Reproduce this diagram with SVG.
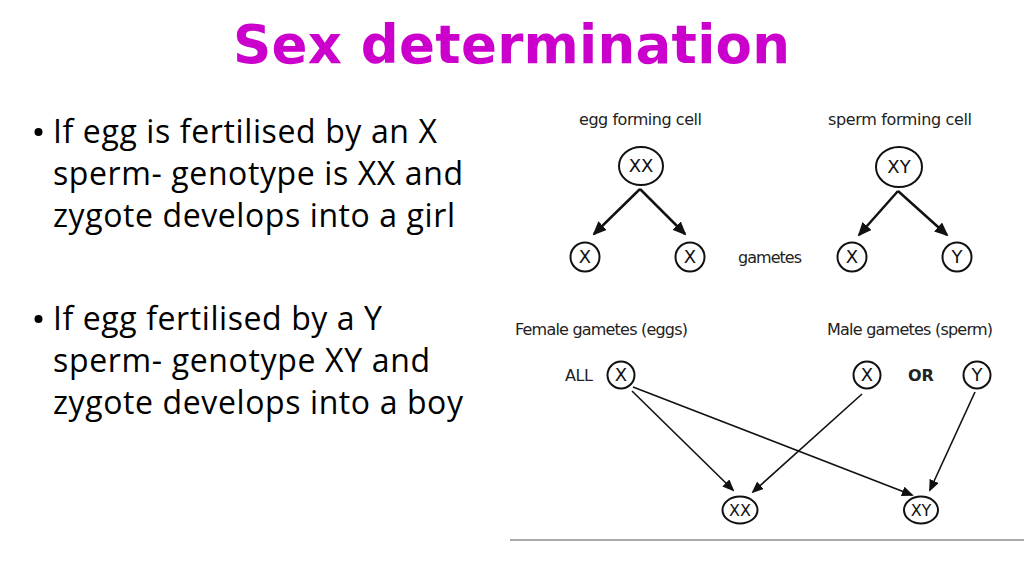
<svg xmlns="http://www.w3.org/2000/svg" width="1024" height="576" viewBox="0 0 1024 576">
<defs>
<style>
.title{font-family:"DejaVu Sans",sans-serif;font-weight:bold;font-size:53px;fill:#CC00CC}
.bul{font-family:"Open Sans","Liberation Sans",sans-serif;font-size:32px;fill:#000}
.lbl{font-family:"DejaVu Sans",sans-serif;font-size:16px;fill:#222}
.sym{font-family:"DejaVu Sans",sans-serif;font-size:18px;fill:#111;text-anchor:middle}
.node{fill:#fff;stroke:#111;stroke-width:2}
.big{stroke:#111;stroke-width:2.5;fill:none;marker-end:url(#ah1)}
.thin{stroke:#111;stroke-width:1.6;fill:none;marker-end:url(#ah2)}
</style>
<marker id="ah1" markerUnits="userSpaceOnUse" markerWidth="14" markerHeight="12" refX="12" refY="6" orient="auto">
<path d="M0,0 L14,6 L0,12 z" fill="#111"/>
</marker>
<marker id="ah2" markerUnits="userSpaceOnUse" markerWidth="12" markerHeight="10" refX="10" refY="5" orient="auto">
<path d="M0,0 L12,5 L0,10 z" fill="#111"/>
</marker>
</defs>
<rect width="1024" height="576" fill="#fff"/>
<text class="title" x="233" y="63" textLength="557">Sex determination</text>
<g id="bullets">
<circle cx="38.5" cy="132" r="4" fill="#000"/>
<text class="bul" x="53" y="143" textLength="384">If egg is fertilised by an X</text>
<text class="bul" x="53" y="185" textLength="410">sperm- genotype is XX and</text>
<text class="bul" x="53" y="227" textLength="402">zygote develops into a girl</text>
<circle cx="38.5" cy="319" r="4" fill="#000"/>
<text class="bul" x="53" y="330" textLength="329">If egg fertilised by a Y</text>
<text class="bul" x="53" y="372" textLength="377">sperm- genotype XY and</text>
<text class="bul" x="53" y="414" textLength="410">zygote develops into a boy</text>
</g>
<g id="labels">
<text class="lbl" x="579" y="125" textLength="123">egg forming cell</text>
<text class="lbl" x="828" y="125" textLength="144">sperm forming cell</text>
<text class="lbl" x="738" y="263" textLength="64">gametes</text>
<text class="lbl" x="515" y="335" textLength="173">Female gametes (eggs)</text>
<text class="lbl" x="827" y="335" textLength="166">Male gametes (sperm)</text>
<text class="lbl" x="565" y="381" textLength="28">ALL</text>
<text class="lbl" x="908" y="381" style="font-weight:bold">OR</text>
</g>
<g id="connectors">
<line class="big" x1="640" y1="189" x2="594" y2="234"/>
<line class="big" x1="640" y1="189" x2="685" y2="234"/>
<line class="big" x1="898" y1="191" x2="859" y2="235"/>
<line class="big" x1="898" y1="191" x2="947" y2="235"/>
<line class="thin" x1="632" y1="391" x2="733" y2="490"/>
<line class="thin" x1="633" y1="387" x2="912" y2="495"/>
<line class="thin" x1="862" y1="394" x2="753" y2="492"/>
<line class="thin" x1="975" y1="392" x2="930" y2="490"/>
</g>
<g id="egg-cell"><ellipse class="node" cx="641" cy="166" rx="22" ry="19"/><text class="sym" x="641" y="172">XX</text></g>
<g id="sperm-cell"><ellipse class="node" cx="899" cy="167" rx="23" ry="20"/><text class="sym" x="899" y="173">XY</text></g>
<g id="egg-x1"><circle class="node" cx="585" cy="257" r="14.5"/><text class="sym" x="585" y="263">X</text></g>
<g id="egg-x2"><circle class="node" cx="690" cy="257" r="14.5"/><text class="sym" x="690" y="263">X</text></g>
<g id="sperm-x"><circle class="node" cx="852" cy="257" r="14.5"/><text class="sym" x="852" y="263">X</text></g>
<g id="sperm-y"><circle class="node" cx="957" cy="257" r="14.5"/><text class="sym" x="957" y="263">Y</text></g>
<g id="female-x"><circle class="node" cx="621" cy="375" r="13.5"/><text class="sym" x="621" y="381">X</text></g>
<g id="male-x"><circle class="node" cx="867" cy="375" r="13.5"/><text class="sym" x="867" y="381">X</text></g>
<g id="male-y"><circle class="node" cx="977" cy="375" r="13.5"/><text class="sym" x="977" y="381">Y</text></g>
<g id="zygote-xx"><ellipse class="node" cx="740" cy="510" rx="17.5" ry="13.5"/><text class="sym" x="740" y="516" style="font-size:16px">XX</text></g>
<g id="zygote-xy"><ellipse class="node" cx="921" cy="510" rx="17" ry="13.5"/><text class="sym" x="921" y="516" style="font-size:16px">XY</text></g>
<line x1="510" y1="540" x2="1024" y2="540" stroke="#aaa" stroke-width="2"/>
</svg>
